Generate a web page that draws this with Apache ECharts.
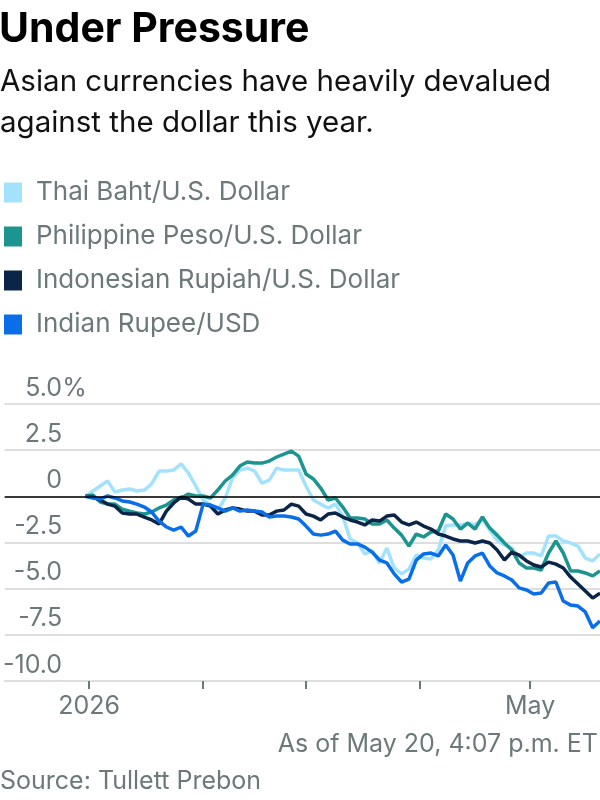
<!DOCTYPE html>
<html>
<head>
<meta charset="utf-8">
<script src="https://cdn.jsdelivr.net/npm/echarts@6/dist/echarts.min.js"></script>
<style>
  html, body { margin: 0; padding: 0; background: #fff; }
  #chart { width: 600px; height: 800px; }
</style>
</head>
<body>
<div id="chart"></div>
<script>
// dates, every other day from the start of the year
const dates = [
  '2025-12-31', '2026-01-02', '2026-01-04', '2026-01-06', '2026-01-08', '2026-01-10', '2026-01-12', '2026-01-14',
  '2026-01-16', '2026-01-18', '2026-01-20', '2026-01-22', '2026-01-24', '2026-01-26', '2026-01-28', '2026-01-30',
  '2026-02-01', '2026-02-03', '2026-02-05', '2026-02-07', '2026-02-09', '2026-02-11', '2026-02-13', '2026-02-15',
  '2026-02-17', '2026-02-19', '2026-02-21', '2026-02-23', '2026-02-25', '2026-02-27', '2026-03-01', '2026-03-03',
  '2026-03-05', '2026-03-07', '2026-03-09', '2026-03-11', '2026-03-13', '2026-03-15', '2026-03-17', '2026-03-19',
  '2026-03-21', '2026-03-23', '2026-03-25', '2026-03-27', '2026-03-29', '2026-03-31', '2026-04-02', '2026-04-04',
  '2026-04-06', '2026-04-08', '2026-04-10', '2026-04-12', '2026-04-14', '2026-04-16', '2026-04-18', '2026-04-20',
  '2026-04-22', '2026-04-24', '2026-04-26', '2026-04-28', '2026-04-30', '2026-05-02', '2026-05-04', '2026-05-06',
  '2026-05-08', '2026-05-10', '2026-05-12', '2026-05-14', '2026-05-16', '2026-05-18', '2026-05-20'
]

const thaiBaht = [0, 0.29, 0.56, 0.83, 0.23, 0.34, 0.4, 0.29, 0.34, 0.67, 1.37, 1.37, 1.42, 1.76, 1.26, 0.56,
  -0.2, -0.47, -0.74, -0.09, 0.99, 1.42, 1.53, 1.37, 0.72, 0.88, 1.53, 1.42, 1.42, 1.42, 0.56, -0.2,
  -0.42, -0.63, -0.42, -1.07, -2.31, -2.53, -3.12, -2.96, -3.61, -2.8, -3.88, -4.2, -3.94, -3.18, -3.34, -3.39,
  -2.9, -1.61, -1.55, -1.55, -1.45, -1.55, -1.23, -1.82, -2.37, -2.64, -2.8, -3.29, -3.07, -3.07, -3.23, -2.15,
  -2.15, -2.42, -2.53, -2.69, -3.34, -3.5, -3.12]
const philippinePeso = [0, 0.07, -0.31, -0.42, -0.42, -0.69, -0.8, -0.9, -0.96, -0.85, -0.63, -0.47, -0.2, -0.09, 0.12, 0.02,
  0.02, -0.09, 0.34, 0.83, 1.15, 1.64, 1.86, 1.8, 1.8, 1.91, 2.13, 2.29, 2.45, 2.18, 1.21, 0.94,
  0.45, -0.2, -0.09, -0.58, -1.17, -1.17, -1.23, -1.5, -1.5, -1.28, -1.72, -2.1, -2.69, -2.04, -2.2, -1.93,
  -1.88, -0.96, -1.23, -1.77, -1.45, -1.77, -1.12, -1.72, -2.1, -2.53, -2.91, -3.61, -3.88, -3.88, -3.99, -3.07,
  -2.42, -3.07, -4.04, -4.04, -4.15, -4.31, -4.04]
const indonesianRupiah = [0, -0.04, -0.2, -0.42, -0.53, -0.9, -0.96, -0.96, -1.12, -1.28, -1.5, -0.8, -0.36, -0.04, -0.15, -0.42,
  -0.42, -0.53, -0.96, -0.74, -0.63, -0.69, -0.8, -0.8, -1.01, -1.01, -0.8, -0.74, -0.42, -0.53, -0.96, -1.07,
  -1.28, -0.96, -0.9, -1.12, -1.28, -1.39, -1.55, -1.28, -1.34, -1.07, -1.01, -1.39, -1.55, -1.39, -1.61, -1.77,
  -2.04, -2.15, -2.31, -2.42, -2.42, -2.53, -2.42, -2.53, -2.91, -3.45, -3.02, -3.18, -3.5, -3.72, -3.83, -3.56,
  -3.67, -3.88, -4.37, -4.75, -5.13, -5.51, -5.24]
const indianRupee = [0, -0.09, -0.15, 0.02, -0.09, -0.25, -0.31, -0.42, -0.58, -0.85, -1.34, -1.66, -1.83, -1.66, -2.15, -1.88,
  -0.42, -0.47, -0.63, -0.8, -0.63, -0.8, -0.74, -0.8, -0.85, -1.12, -1.07, -1.07, -1.12, -1.23, -1.61, -2.04,
  -2.1, -2.04, -1.88, -2.37, -2.58, -2.58, -2.75, -3.02, -3.45, -3.61, -4.2, -4.64, -4.48, -3.45, -3.12, -3.07,
  -3.23, -2.64, -3.18, -4.59, -3.61, -3.23, -3.07, -3.77, -4.15, -4.31, -4.53, -4.96, -5.07, -5.29, -5.24, -4.69,
  -4.64, -5.67, -5.89, -5.94, -6.26, -7.12, -6.75]

const seriesNames = ['Thai Baht/U.S. Dollar', 'Philippine Peso/U.S. Dollar', 'Indonesian Rupiah/U.S. Dollar', 'Indian Rupee/USD']
const seriesValues = [thaiBaht, philippinePeso, indonesianRupiah, indianRupee]
const colors = ['#a3e2fc', '#1c9490', '#0b2548', '#0a6ee8']

const gray = '#6c7879'
const font = 'Inter, Roboto, sans-serif'

const toTime = (d) => new Date(d + 'T00:00:00').getTime()
const DAY = 24 * 3600 * 1000

// only Jan and May get a label
const labelTicks = [toTime('2026-01-01'), toTime('2026-05-01')]
const xMin = toTime('2025-12-09')
const xMax = toTime('2026-05-20')

// one category per day over the same span, used just for the month ticks
const tickDays = []
for (let t = xMin; t <= xMax + DAY / 2; t += DAY) {
  const d = new Date(t)
  tickDays.push(d.getFullYear() + '-' + (d.getMonth() + 1) + '-' + d.getDate())
}

const renderChart = () => {
  const chart = echarts.init(document.getElementById('chart'), null, { renderer: 'canvas' })

  const lines = seriesNames.map((name, i) => ({
    name: name,
    type: 'line',
    z: 3,
    showSymbol: false,
    symbol: 'none',
    lineStyle: { width: 3.5, color: colors[i] },
    itemStyle: { color: colors[i] },
    data: dates.map((d, j) => [toTime(d), seriesValues[i][j]])
  }))

  // zero line, under the currency lines
  lines.unshift({
    name: 'zero',
    type: 'line',
    z: 1,
    data: [],
    markLine: {
      silent: true,
      symbol: 'none',
      label: { show: false },
      lineStyle: { color: '#000', width: 1.5, type: 'solid' },
      data: [{ yAxis: 0 }]
    }
  })

  const titleStyle = (size, color, weight, lh) => ({ fontSize: size, fontWeight: weight, color: color, lineHeight: lh, fontFamily: font })

  const option = {
    animation: false,
    textStyle: { fontFamily: font },
    title: [
      { text: 'Under Pressure', left: -1, top: 10, padding: 0, textStyle: titleStyle(41, '#000', 'bold', 40) },
      {
        text: 'Asian currencies have heavily devalued\nagainst the dollar this year.',
        left: 0, top: 62, padding: 0,
        textStyle: titleStyle(29.5, '#111', 'normal', 41)
      },
      { text: 'As of May 20, 4:07 p.m. ET', right: 2, top: 729, padding: 0, textStyle: titleStyle(25, gray, 'normal', 30) },
      { text: 'Source: Tullett Prebon', left: 0, top: 766, padding: 0, textStyle: titleStyle(25, gray, 'normal', 30) }
    ],
    legend: {
      data: seriesNames,
      orient: 'vertical',
      left: 4, top: 179.5,
      icon: 'rect',
      itemWidth: 18, itemHeight: 20,
      itemGap: 18,
      padding: 0,
      selectedMode: false,
      textStyle: { fontSize: 26, color: gray, lineHeight: 20, padding: [0, 0, 0, 9], fontFamily: font }
    },
    grid: { left: 0, right: 0, top: 404, bottom: 119, containLabel: false },
    xAxis: [
      {
        type: 'value',
        min: xMin, max: xMax,
        axisLine: { show: true, onZero: false, lineStyle: { color: '#dedede', width: 2 } },
        splitLine: { show: false },
        axisTick: { show: false },
        axisLabel: {
          customValues: labelTicks,
          margin: 10,
          fontSize: 25, lineHeight: 30, color: gray, fontFamily: font,
          formatter: (v) => new Date(v).getMonth() === 0 ? '2026' : 'May'
        }
      },
      {
        // month ticks only
        type: 'category',
        position: 'bottom',
        data: tickDays,
        boundaryGap: false,
        axisLine: { show: false, onZero: false },
        splitLine: { show: false },
        axisTick: {
          show: true, length: 8,
          interval: (idx, val) => val.endsWith('-1') && !val.endsWith('-11') && !val.endsWith('-21') && !val.endsWith('-31'),
          lineStyle: { color: gray, width: 2 }
        },
        axisLabel: { show: false }
      }
    ],
    yAxis: {
      type: 'value',
      min: -10, max: 5, interval: 2.5,
      axisLine: { show: false, onZero: false },
      axisTick: { show: false },
      splitLine: { lineStyle: { color: '#dedede', width: 2 } },
      axisLabel: {
        inside: true,
        margin: 82,
        align: 'right',
        verticalAlign: 'bottom',
        lineHeight: 32,
        fontSize: 25, color: gray, fontFamily: font,
        formatter: (v) => {
          let s = v === 0 ? '0' : v.toFixed(1)
          return v === 5 ? '{v|' + s + '%}' : '{v|' + s + '}{h|%}'
        },
        rich: {
          v: { fontSize: 25, color: gray, lineHeight: 32, fontFamily: font },
          h: { fontSize: 25, color: 'rgba(0,0,0,0)', lineHeight: 32, fontFamily: font }
        }
      }
    },
    series: lines
  }

  chart.setOption(option)
}

document.addEventListener('DOMContentLoaded', renderChart)
</script>
</body>
</html>
